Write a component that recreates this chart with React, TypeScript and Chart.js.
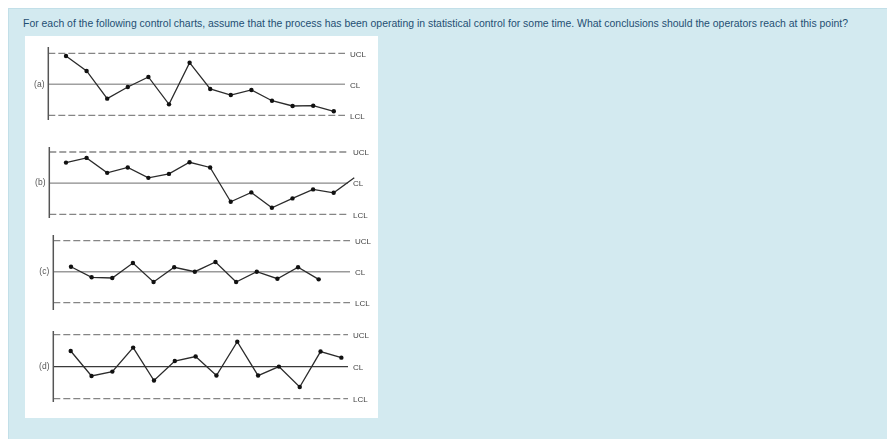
import React, { useEffect, useRef } from 'react';
import { Chart, registerables } from 'chart.js';

Chart.register(...registerables);

const QUESTION =
  'For each of the following control charts, assume that the process has been operating in statistical control for some time. What conclusions should the operators reach at this point?';
const CHART_LABELS = ['(a)', '(b)', '(c)', '(d)'];
const LIMIT_LABELS = ['UCL', 'CL', 'LCL'];
const LIMIT_VALUES = [3, 0, -3];

const SERIES_A = [2.74, 1.29, -1.39, -0.26, 0.71, -1.94, 2.09, -0.45, -1.04, -0.55, -1.59, -2.1, -2.07, -2.61];
const SERIES_B = [1.98, 2.43, 0.99, 1.51, 0.51, 0.89, 2.01, 1.51, -1.79, -0.89, -2.37, -1.47, -0.6, -0.93, 0.51];
const SERIES_C = [0.48, -0.54, -0.61, 0.84, -1.0, 0.43, 0, 0.94, -1.0, 0, -0.68, 0.43, -0.74];
const SERIES_D = [1.46, -0.88, -0.47, 1.78, -1.31, 0.52, 0.94, -0.84, 2.34, -0.84, 0, -1.91, 1.41, 0.84];

const BOX_LEFT = 25;
const BOX_RIGHT = 378;
const PAD_V = 10;

type Panel = {
  label: string;
  values: number[];
  top: number;
  bottom: number;
  axisX: number;
  endX: number;
  x0: number;
  step: number;
  ucl: number;
  lcl: number;
  clColor: string;
};

const PANELS: Panel[] = [
  { label: CHART_LABELS[0], values: SERIES_A, top: 47, bottom: 120, axisX: 48.3, endX: 345, x0: 66, step: 20.6, ucl: 53.3, lcl: 115.3, clColor: '#a0a0a0' },
  { label: CHART_LABELS[1], values: SERIES_B, top: 146.7, bottom: 218, axisX: 49.3, endX: 348, x0: 66, step: 20.59, ucl: 151.7, lcl: 214.3, clColor: '#8a8a8a' },
  { label: CHART_LABELS[2], values: SERIES_C, top: 235, bottom: 310, axisX: 53.3, endX: 350, x0: 71, step: 20.64, ucl: 240.7, lcl: 302.7, clColor: '#9a9a9a' },
  { label: CHART_LABELS[3], values: SERIES_D, top: 330.7, bottom: 401.7, axisX: 53.3, endX: 348, x0: 70.7, step: 20.82, ucl: 334.3, lcl: 398.3, clColor: '#3a3a3a' },
];

const LABEL_FONT = '"Liberation Sans", Arial, sans-serif';

function ControlChart({ panel }: { panel: Panel }) {
  const ref = useRef<HTMLCanvasElement | null>(null);
  const width = BOX_RIGHT - BOX_LEFT;
  const height = panel.bottom - panel.top + PAD_V * 2;

  useEffect(() => {
    if (!ref.current) return;
    const xmin = (panel.axisX - panel.x0) / panel.step;
    const xmax = (panel.endX - panel.x0) / panel.step;
    const spx = (panel.lcl - panel.ucl) / 6;
    const ymax = 3 + (panel.ucl - panel.top) / spx;
    const ymin = -3 - (panel.bottom - panel.lcl) / spx;

    const limitSets = LIMIT_VALUES.map((v, i) => ({
      label: LIMIT_LABELS[i],
      data: [
        { x: xmin, y: v },
        { x: xmax, y: v },
      ],
      borderColor: v === 0 ? panel.clColor : '#858585',
      borderWidth: v === 0 ? 1.4 : 1.3,
      borderDash: v === 0 ? [] : [7, 3],
      pointRadius: 0,
      clip: false as const,
      order: 2,
    }));

    const decor = {
      id: 'decor',
      afterDatasetsDraw(chart: Chart) {
        const { ctx, chartArea } = chart;
        const ys = chart.scales.y;
        ctx.save();
        ctx.strokeStyle = '#555';
        ctx.lineWidth = 1.5;
        ctx.beginPath();
        ctx.moveTo(chartArea.left, chartArea.top);
        ctx.lineTo(chartArea.left, chartArea.bottom);
        ctx.stroke();
        ctx.fillStyle = '#555';
        ctx.font = `8.5px ${LABEL_FONT}`;
        ctx.textBaseline = 'middle';
        ctx.textAlign = 'center';
        ctx.fillText(panel.label, chartArea.left - 9, ys.getPixelForValue(0));
        ctx.textAlign = 'left';
        ctx.fillStyle = '#444';
        ctx.font = `8px ${LABEL_FONT}`;
        LIMIT_VALUES.forEach((v, i) => {
          ctx.fillText(LIMIT_LABELS[i], chartArea.right + 5, ys.getPixelForValue(v) + 1);
        });
        ctx.restore();
      },
    };

    const chart = new Chart(ref.current, {
      type: 'line',
      data: {
        datasets: [
          {
            label: panel.label,
            data: panel.values.map((v, i) => ({ x: i, y: v })),
            borderColor: '#2b2b2b',
            borderWidth: 1.3,
            pointRadius: 2.2,
            pointBackgroundColor: '#111',
            pointBorderColor: '#111',
            pointBorderWidth: 0,
            tension: 0,
            clip: false as const,
            order: 1,
          },
          ...limitSets,
        ],
      },
      options: {
        responsive: false,
        animation: false,
        events: [],
        layout: {
          padding: {
            left: panel.axisX - BOX_LEFT,
            right: BOX_RIGHT - panel.endX,
            top: PAD_V,
            bottom: PAD_V,
          },
        },
        scales: {
          x: { type: 'linear', display: false, min: xmin, max: xmax },
          y: { type: 'linear', display: false, min: ymin, max: ymax },
        },
        plugins: { legend: { display: false }, tooltip: { enabled: false } },
      },
      plugins: [decor],
    });
    return () => chart.destroy();
  }, [panel]);

  return (
    <canvas
      ref={ref}
      width={width}
      height={height}
      style={{
        position: 'absolute',
        left: BOX_LEFT,
        top: panel.top - PAD_V,
        width,
        height,
      }}
    />
  );
}

export default function App() {
  return (
    <div style={{ position: 'absolute', left: 0, top: 0, width: 887, height: 439, overflow: 'hidden' }}>
      <div
        style={{
          position: 'absolute',
          left: 8,
          top: 8,
          width: 900,
          height: 460,
          background: '#d3eaf0',
          borderTop: '1px solid #c2dfe8',
          borderLeft: '1px solid #c2dfe8',
        }}
      />
      <div
        style={{
          position: 'absolute',
          left: 23,
          top: 18,
          whiteSpace: 'nowrap',
          fontFamily: '"Liberation Sans", Arial, sans-serif',
          fontSize: 10.45,
          color: '#1f4f73',
        }}
      >
        {QUESTION}
      </div>
      <div
        style={{
          position: 'absolute',
          left: BOX_LEFT,
          top: 36,
          width: BOX_RIGHT - BOX_LEFT,
          height: 418 - 36,
          background: '#ffffff',
        }}
      />
      {PANELS.map((p) => (
        <ControlChart key={p.label} panel={p} />
      ))}
    </div>
  );
}
